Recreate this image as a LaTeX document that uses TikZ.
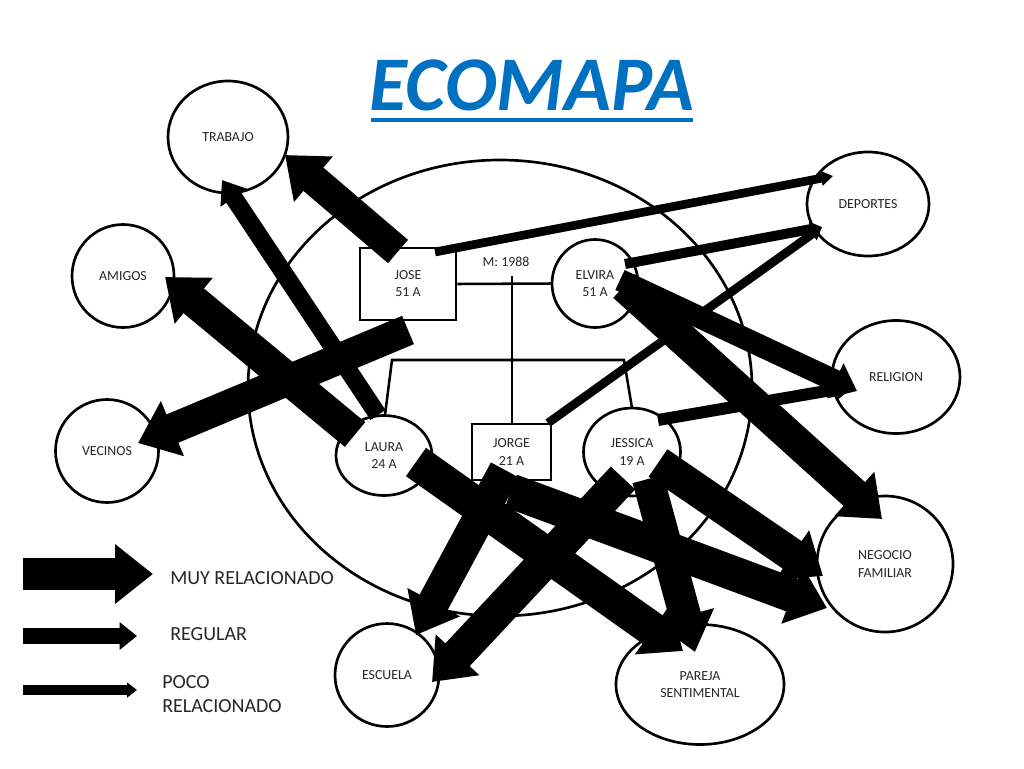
\documentclass[tikz,border=0pt]{standalone}
\usepackage{fontspec}
\setmainfont{Carlito}
\usetikzlibrary{arrows.meta,shapes.geometric}
\definecolor{titleblue}{HTML}{0070C0}
\definecolor{txt}{HTML}{262626}
\tikzset{
  x=0.75pt,y=-0.75pt,
  place/.style n args={2}{ellipse,draw=black,fill=white,line width=2pt,inner sep=0pt,minimum width=#1*0.75pt,minimum height=#2*0.75pt,font=\fontsize{10.4}{12.8}\selectfont,text=txt,align=center},
  person/.style n args={2}{rectangle,draw=black,fill=white,line width=2pt,inner sep=0pt,minimum width=#1*0.75pt,minimum height=#2*0.75pt,font=\fontsize{10.4}{12.8}\selectfont,text=txt,align=center},
  family/.style={line width=1.9pt,line cap=butt},
  legend/.style={font=\fontsize{15}{18}\selectfont,text=txt,align=left,anchor=west,inner sep=0pt},
  thickarrow/.style={black,line width=24pt,-{Triangle[length=28pt,width=43pt]}},
  heavyarrow/.style={black,line width=26pt,-{Triangle[length=28pt,width=44pt]}},
  smallarrow/.style={black,line width=16.5pt,-{Triangle[length=18pt,width=28pt]}},
  regarrow/.style={black,line width=13.5pt,-{Triangle[length=16pt,width=23pt]}},
  thinarrow/.style={black,line width=6.5pt,-{Triangle[length=9pt,width=11pt]}},
}
\begin{document}
\begin{tikzpicture}
\useasboundingbox (0,0) rectangle (1024,768);
% title
\node[font=\fontsize{58}{60}\bfseries\itshape\selectfont,text=titleblue,inner sep=0pt] (title) at (532,85) {ECOMAPA};
\coordinate (ul) at (371,120); \coordinate (ur) at (693,120);
\draw[titleblue,line width=3pt] (ul) -- (ur);
% household
\node[ellipse,draw=black,line width=2pt,minimum width=378pt,minimum height=342pt,inner sep=0pt] (hogar) at (500,388) {};
% outer systems
\node[place={120}{112}] (trabajo) at (228,137) {TRABAJO};
\node[place={102}{103}] (amigos) at (123,276) {AMIGOS};
\node[place={103}{103}] (vecinos) at (107,451) {VECINOS};
\node[place={122}{104}] (deportes) at (868,204) {DEPORTES};
\node[place={128}{113}] (religion) at (896,377) {RELIGION};
\node[place={136}{136}] (negocio) at (885,564) {NEGOCIO\\FAMILIAR};
\node[place={104}{103}] (escuela) at (387,675) {ESCUELA};
\node[place={168}{120}] (pareja) at (700,684.5) {PAREJA\\SENTIMENTAL};
% family
\node[person={96}{72}] (jose) at (408,284) {JOSE\\51 A};
\node[place={86}{88}] (elvira) at (595,283.5) {ELVIRA\\51 A};
\node[place={96}{80}] (laura) at (384,455.5) {LAURA\\24 A};
\node[person={79}{56}] (jorge) at (511.5,452) {JORGE\\21 A};
\node[place={97}{88}] (jessica) at (632,452) {JESSICA\\19 A};
\node[font=\fontsize{10.4}{12}\selectfont,text=txt] (boda) at (506,262) {M: 1988};
\coordinate (desc) at (512,276);
\coordinate (barL) at (392,360);
\coordinate (barR) at (624,360);
\coordinate (lauraT) at (385,415);
\coordinate (jessT) at (632,408);
\draw[family] (jose.east) -- (elvira.west);
\draw[family] (desc) -- (jorge.north -| desc);
\draw[family] (lauraT) -- (barL) -- (barR) -- (jessT);
% arrow ends
\coordinate (a1) at (398,251.5); \coordinate (b1) at (285,155);
\coordinate (a2) at (378,415); \coordinate (b2) at (222,180);
\coordinate (a3) at (355,434.5); \coordinate (b3) at (165,277);
\coordinate (a4) at (408,330); \coordinate (b4) at (138,443);
\coordinate (a5) at (435,252); \coordinate (b5) at (833,176);
\coordinate (a6) at (625,264); \coordinate (b6) at (822,227);
\coordinate (a7) at (548,423); \coordinate (b7) at (822,227);
\coordinate (a8) at (620,280); \coordinate (b8) at (857,391);
\coordinate (a9) at (624,286); \coordinate (b9) at (882,519);
\coordinate (a10) at (658,420); \coordinate (b10) at (855,386);
\coordinate (a11) at (658,463); \coordinate (b11) at (823,576);
\coordinate (a12) at (648,479); \coordinate (b12) at (695,652);
\coordinate (a13) at (416,462); \coordinate (b13) at (683,651);
\coordinate (a14) at (505,470); \coordinate (b14) at (416,635);
\coordinate (a15) at (623,478); \coordinate (b15) at (432,682);
\coordinate (a16) at (511,491); \coordinate (b16) at (827,608);
\draw[thickarrow,line width=23pt] (a1) -- (b1);
\draw[regarrow] (a2) -- (b2);
\draw[thickarrow] (a3) -- (b3);
\draw[thickarrow,line width=23pt] (a4) -- (b4);
\draw[thinarrow] (a5) -- (b5);
\draw[thinarrow,line width=7.5pt] (a6) -- (b6);
\draw[thinarrow] (a7) -- (b7);
\draw[smallarrow] (a8) -- (b8);
\draw[thickarrow] (a9) -- (b9);
\draw[thinarrow,line width=9pt,-{Triangle[length=14pt,width=14pt]}] (a10) -- (b10);
\draw[thickarrow,line width=25pt] (a11) -- (b11);
\draw[thickarrow] (a12) -- (b12);
\draw[heavyarrow] (a13) -- (b13);
\draw[thickarrow] (a14) -- (b14);
\draw[thickarrow,line width=25pt] (a15) -- (b15);
\draw[heavyarrow] (a16) -- (b16);
% legend
\coordinate (l1a) at (23,574); \coordinate (l1b) at (153,574);
\coordinate (l2a) at (23,636); \coordinate (l2b) at (137,636);
\coordinate (l3a) at (23,690); \coordinate (l3b) at (137,690);
\draw[black,line width=24pt,-{Triangle[length=28.5pt,width=43pt]}] (l1a) -- (l1b);
\draw[black,line width=12pt,-{Triangle[length=13pt,width=20pt]}] (l2a) -- (l2b);
\draw[black,line width=7pt,-{Triangle[length=7.5pt,width=11pt]}] (l3a) -- (l3b);
\node[legend] (muy) at (170,578) {MUY RELACIONADO};
\node[legend] (reg) at (170,634) {REGULAR};
\node[legend] (poco) at (162,694) {POCO\\RELACIONADO};
\end{tikzpicture}
\end{document}
